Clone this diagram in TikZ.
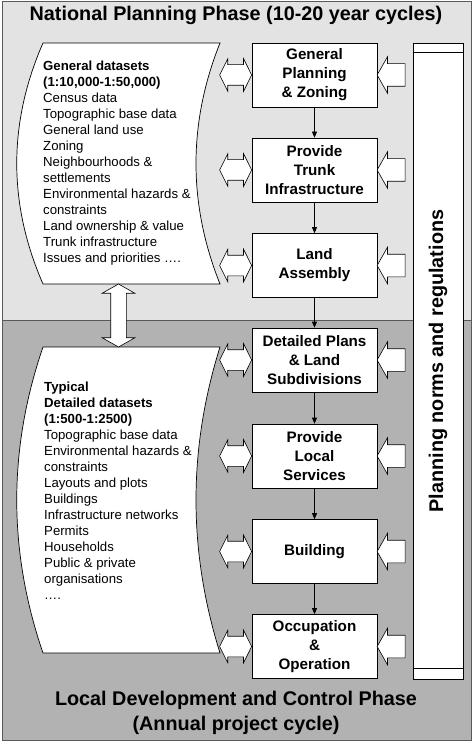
\documentclass[tikz,border=0pt]{standalone}
\usepackage{fontspec}
\setmainfont{Liberation Sans}
\usetikzlibrary{arrows.meta, shapes.arrows, calc}

\definecolor{nationalgray}{gray}{0.89}
\definecolor{localgray}{gray}{0.70}
\definecolor{framegray}{gray}{0.35}

\tikzset{
  stage/.style={draw=black, fill=white, line width=0.7pt, minimum width=125pt, minimum height=64pt, align=center, inner sep=0pt, font=\fontsize{15.2}{19}\selectfont\bfseries},
  dataset/.style={draw=black, fill=white, line width=0.7pt},
  datatext/.style={align=left, anchor=west, inner sep=0pt, font=\fontsize{13.2}{16}\selectfont},
  phase/.style={align=center, inner sep=0pt, font=\fontsize{19.8}{25}\selectfont\bfseries},
  flow/.style={-{Triangle[length=6pt,width=5pt]}, line width=0.7pt},
  exchange/.style={double arrow, draw=black, fill=white, line width=0.6pt, inner xsep=0pt, inner ysep=10pt, minimum height=32pt, double arrow head extend=6pt, double arrow tip angle=127},
  normarrow/.style={single arrow, draw=black, fill=white, line width=0.6pt, inner xsep=0pt, inner ysep=11pt, rotate=180, minimum height=28pt, single arrow head extend=7pt, single arrow tip angle=121},
}

\begin{document}
\begin{tikzpicture}[x=1pt, y=-1pt]
\useasboundingbox (0,0) rectangle (474,743);

% the two phases
\draw[draw=framegray, fill=nationalgray, line width=1pt] (2,2) rectangle (471,320);
\draw[draw=framegray, fill=localgray, line width=1pt] (2,320) rectangle (471,740);
\node[phase] (national) at (236,15) {National Planning Phase (10-20 year cycles)};
\node[phase] (local) at (236,712.5) {Local Development and Control Phase\\(Annual project cycle)};

% datasets
\filldraw[dataset] (43,43) -- (220,43) .. controls (188,123) and (188,204) .. (220,284)
  -- (43,284) .. controls (8,204) and (8,123) .. (43,43) -- cycle;
\filldraw[dataset] (43,347) -- (220,347) .. controls (188,449) and (188,551) .. (220,653)
  -- (43,653) .. controls (8,551) and (8,449) .. (43,347) -- cycle;
\node[datatext] (general) at (43,163) {\textbf{General datasets}\\
  \textbf{(1:10,000-1:50,000)}\\
  Census data\\
  Topographic base data\\
  General land use\\
  Zoning\\
  Neighbourhoods \&\\
  settlements\\
  Environmental hazards \&\\
  constraints\\
  Land ownership \& value\\
  Trunk infrastructure\\
  Issues and priorities ….};
\node[datatext] (detailed) at (44,491) {\textbf{Typical}\\
  \textbf{Detailed datasets}\\
  \textbf{(1:500-1:2500)}\\
  Topographic base data\\
  Environmental hazards \&\\
  constraints\\
  Layouts and plots\\
  Buildings\\
  Infrastructure networks\\
  Permits\\
  Households\\
  Public \& private\\
  organisations\\
  ….};
\node[exchange, rotate=90, inner ysep=7.5pt, minimum height=63pt, double arrow head extend=8.5pt, double arrow tip angle=121] (scale) at (118.5,315.5) {};

% planning stages
\node[stage] (plan) at (314.5,75) {General\\Planning\\\& Zoning};
\node[stage] (trunk) at (314.5,170) {Provide\\Trunk\\Infrastructure};
\node[stage] (assembly) at (314.5,265.5) {Land\\Assembly};
\node[stage] (subdiv) at (314.5,360) {Detailed Plans\\\& Land\\Subdivisions};
\node[stage] (services) at (314.5,456) {Provide\\Local\\Services};
\node[stage] (building) at (314.5,551.5) {Building};
\node[stage] (occupy) at (314.5,646.5) {Occupation\\\&\\Operation};

\draw[flow] (plan) -- (trunk);
\draw[flow] (trunk) -- (assembly);
\draw[flow] (assembly) -- (subdiv);
\draw[flow] (subdiv) -- (services);
\draw[flow] (services) -- (building);
\draw[flow] (building) -- (occupy);

% norms and regulations
\node[draw=black, fill=white, line width=0.7pt, minimum width=50pt, minimum height=636pt, inner sep=0pt] (norms) at (438,361) {};
\draw[line width=0.7pt] ($(norms.north west)+(0,10)$) -- ($(norms.north east)+(0,10)$);
\draw[line width=0.7pt] ($(norms.south west)+(0,-11)$) -- ($(norms.south east)+(0,-11)$);
\node[phase, rotate=90] (normtext) at (norms) {Planning norms and regulations};

% data exchange
\node[exchange] (x1) at ($(plan.west)+(-16,0)$) {};
\node[exchange] (x2) at ($(trunk.west)+(-16,0)$) {};
\node[exchange] (x3) at ($(assembly.west)+(-16,0)$) {};
\node[exchange] (x4) at ($(subdiv.west)+(-16,0)$) {};
\node[exchange] (x5) at ($(services.west)+(-16,0)$) {};
\node[exchange] (x6) at ($(building.west)+(-16,0)$) {};
\node[exchange] (x7) at ($(occupy.west)+(-16,0)$) {};

% norms applied
\node[normarrow] (n1) at ($(plan.east)+(17,0)$) {};
\node[normarrow] (n2) at ($(trunk.east)+(17,0)$) {};
\node[normarrow] (n3) at ($(assembly.east)+(17,0)$) {};
\node[normarrow] (n4) at ($(subdiv.east)+(17,0)$) {};
\node[normarrow] (n5) at ($(services.east)+(17,0)$) {};
\node[normarrow] (n6) at ($(building.east)+(17,0)$) {};
\node[normarrow] (n7) at ($(occupy.east)+(17,0)$) {};

\end{tikzpicture}
\end{document}
